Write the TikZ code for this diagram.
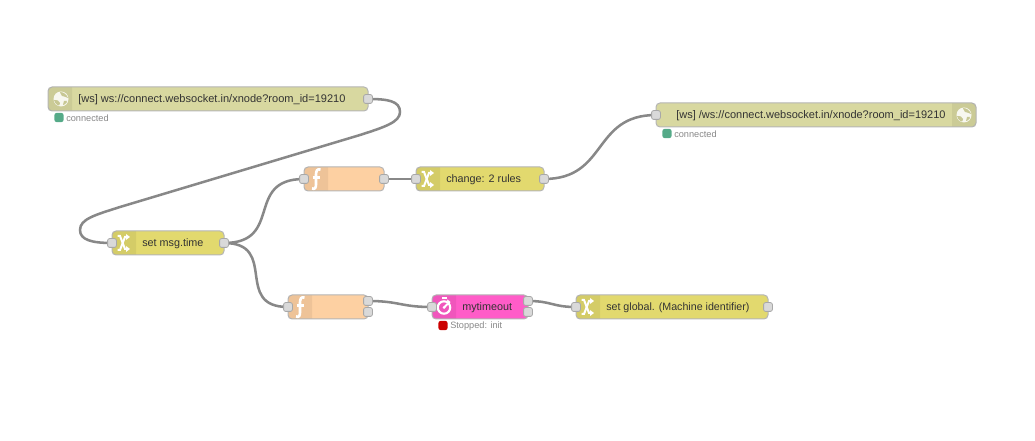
\documentclass[tikz,border=0pt]{standalone}
\usepackage{fontspec}
\setmainfont{Liberation Sans}
\usetikzlibrary{backgrounds}
\definecolor{wsc}{HTML}{D8D8A0}
\definecolor{chg}{HTML}{E2D96E}
\definecolor{fnc}{HTML}{FDD0A2}
\definecolor{tmr}{HTML}{FF5CC8}
\definecolor{edgec}{HTML}{B5B5B5}
\definecolor{portc}{HTML}{D9D9D9}
\definecolor{portb}{HTML}{A8A8A8}
\definecolor{wirec}{HTML}{888888}
\definecolor{txtc}{HTML}{333333}
\definecolor{stc}{HTML}{888888}
\tikzset{
  x=0.75pt,y=-0.75pt,
  flow/.style={draw=edgec,line width=0.75pt,rounded corners=3pt,inner sep=0pt,minimum height=18pt},
  band/.style={fill=black,fill opacity=0.06},
  port/.style={draw=portb,fill=portc,line width=0.6pt,rounded corners=1.5pt,minimum size=6.6pt,inner sep=0pt},
  lbl/.style={anchor=west,inner sep=0pt,font=\fontsize{8.1pt}{10pt}\selectfont,text=txtc},
  stat/.style={anchor=west,inner sep=0pt,font=\fontsize{6.9pt}{9pt}\selectfont,text=stc},
  dot/.style={rounded corners=1.5pt,minimum size=6.8pt,inner sep=0pt},
  wire/.style={draw=wirec,line width=1.9pt},
  ico/.style={white,line width=1.1pt}
}
% name, left x, top y, width, colour
\newcommand{\flowbox}[5]{\node[flow,fill=#5,minimum width=#4*0.75pt] (#1) at (#2+#4/2,#3+12) {};}
\newcommand{\bandL}[2]{\fill[band] (#1+24,#2+0.5) -- (#1+3,#2+0.5) [rounded corners=2.5pt] -- (#1+0.5,#2+0.5) -- (#1+0.5,#2+23.5) [sharp corners] -- (#1+3,#2+23.5) -- (#1+24,#2+23.5) -- cycle;}
\newcommand{\bandR}[2]{\fill[band] (#1,#2+0.5) -- (#1+21,#2+0.5) [rounded corners=2.5pt] -- (#1+23.5,#2+0.5) -- (#1+23.5,#2+23.5) [sharp corners] -- (#1+21,#2+23.5) -- (#1,#2+23.5) -- cycle;}
\newcommand{\shufico}[2]{\begin{scope}[shift={(#1,#2)}]
  \draw[ico,line width=1.5pt] (-6,-7) -- (-3.5,-7) -- (1.5,6) -- (3,6);
  \draw[ico,line width=1.5pt] (-6,7) -- (-3.5,7) -- (1.5,-6) -- (3,-6);
  \fill[white] (2.5,-9) -- (6.5,-6) -- (2.5,-3) -- cycle;
  \fill[white] (2.5,3) -- (6.5,6) -- (2.5,9) -- cycle;
\end{scope}}
\newcommand{\fico}[2]{\begin{scope}[shift={(#1,#2)}]
  \draw[white,line width=2pt] (4.5,-9.5) .. controls (1,-10.5) and (0,-8) .. (0,-4) -- (0,5) .. controls (0,9) and (-1,10.5) .. (-4,9.5);
  \draw[white,line width=1.7pt] (-3.5,-1.5) -- (4,-1.5);
\end{scope}}
\newcommand{\globeico}[3]{\begin{scope}[shift={(#1,#2)}]
  \fill[white,opacity=0.85] (0,0) circle[radius=7.5];
  \fill[#3!92!black] (-1,-7) .. controls (3,-7) and (6,-4) .. (7,-1) .. controls (4,-2) and (3,-3) .. (1,-3) .. controls (0,-5) and (-1,-6) .. (-1,-7) -- cycle;
  \fill[#3!92!black] (-7,1) .. controls (-4,0) and (-2,2) .. (-1,4) .. controls (-1,6) and (-2,7) .. (-3,6.5) .. controls (-5,5) and (-7,3) .. (-7,1) -- cycle;
  \fill[#3!92!black] (3,2) .. controls (5,1) and (6,2) .. (6,3) .. controls (5,5) and (3,6) .. (2,6) -- cycle;
\end{scope}}
\newcommand{\timerico}[2]{\begin{scope}[shift={(#1,#2)}]
  \draw[white,line width=1.6pt] (0,1.5) circle[radius=6.2];
  \fill[white] (-2.5,-8.5) rectangle (2.5,-6.8);
  \fill[white] (3.5,-6.5) -- (6.5,-4) -- (5.5,-3) -- (3,-5) -- cycle;
  \draw[white,line width=1.4pt] (0,1.5) -- (3.5,-2);
  \fill[white] (0,1.5) circle[radius=1.5];
\end{scope}}
\begin{document}
\begin{tikzpicture}
\useasboundingbox (0,0) rectangle (1035,441);
% bodies
\flowbox{wsin}{48}{87}{320}{wsc}
\flowbox{wsout}{656}{103}{320}{wsc}
\flowbox{setm}{112}{231}{112}{chg}
\flowbox{fa}{304}{167}{80}{fnc}
\flowbox{chng}{416}{167}{128}{chg}
\flowbox{fb}{288}{295}{80}{fnc}
\flowbox{mt}{432}{295}{96}{tmr}
\flowbox{setg}{576}{295}{192}{chg}
% icon bands
\bandL{48}{87}
\bandR{952}{103}
\bandL{112}{231}
\bandL{304}{167}
\bandL{416}{167}
\bandL{288}{295}
\bandL{432}{295}
\bandL{576}{295}
% icons
\globeico{61}{99}{wsc}
\globeico{964}{115}{wsc}
\shufico{123.5}{243}
\fico{316}{179}
\shufico{427.5}{179}
\fico{300}{307}
\timerico{444}{306}
\shufico{587.5}{307}
% labels
\node[lbl,font=\fontsize{8.28pt}{10pt}\selectfont] (tina) at (78,99.8) {[ws] ws://connect.websocket.in/xnode?room\_id=19210};
\node[lbl,font=\fontsize{8.25pt}{10pt}\selectfont] (tinb) at (676,115.8) {[ws] /ws://connect.websocket.in/xnode?room\_id=19210};
\node[lbl] (tc) at (142,243.8) {set msg.time};
\node[lbl] (td) at (446,179.8) {change: 2 rules};
\node[lbl] (te) at (462,307.8) {mytimeout};
\node[lbl,font=\fontsize{8pt}{10pt}\selectfont] (tf) at (606,307.8) {set global. (Machine identifier)};
% status
\node[dot,fill={rgb,255:red,85;green,170;blue,136}] (sa) at (59,117.5) {};
\node[stat] (sat) at (66,118.5) {connected};
\node[dot,fill={rgb,255:red,85;green,170;blue,136}] (sb) at (667,133.5) {};
\node[stat] (sbt) at (674,134.5) {connected};
\node[dot,fill={rgb,255:red,204;green,0;blue,0}] (sc) at (443,325.5) {};
\node[stat] (sct) at (450,326.5) {Stopped: init};
% ports
\node[port] (p1) at (368,99) {};
\node[port] (p2) at (656,115) {};
\node[port] (p3) at (112,243) {};
\node[port] (p4) at (224,243) {};
\node[port] (p5) at (304,179) {};
\node[port] (p6) at (384,179) {};
\node[port] (p7) at (416,179) {};
\node[port] (p8) at (544,179) {};
\node[port] (p9) at (288,307) {};
\node[port] (p10) at (368,301) {};
\node[port] (p11) at (368,312) {};
\node[port] (p12) at (432,307) {};
\node[port] (p13) at (528,301) {};
\node[port] (p14) at (528,312) {};
\node[port] (p15) at (576,307) {};
\node[port] (p16) at (768,307) {};
% wires
\begin{scope}[on background layer]
\draw[wire] (p1.center) .. controls (388,99) and (400,101) .. (400,112)
  .. controls (400,122) and (385,127) .. (360,135)
  -- (120,207)
  .. controls (95,215) and (80,219) .. (80,230)
  .. controls (80,240) and (92,243) .. (p3.center);
\draw[wire] (p4.center) .. controls (284,243) and (244,179) .. (p5.center);
\draw[wire] (p4.center) .. controls (279,243) and (233,307) .. (p9.center);
\draw[wire] (p6.center) -- (p7.center);
\draw[wire] (p8.center) .. controls (608,179) and (592,115) .. (p2.center);
\draw[wire] (p10.center) .. controls (400,301) and (400,307) .. (p12.center);
\draw[wire] (p13.center) .. controls (552,301) and (552,307) .. (p15.center);
\end{scope}
\end{tikzpicture}
\end{document}
